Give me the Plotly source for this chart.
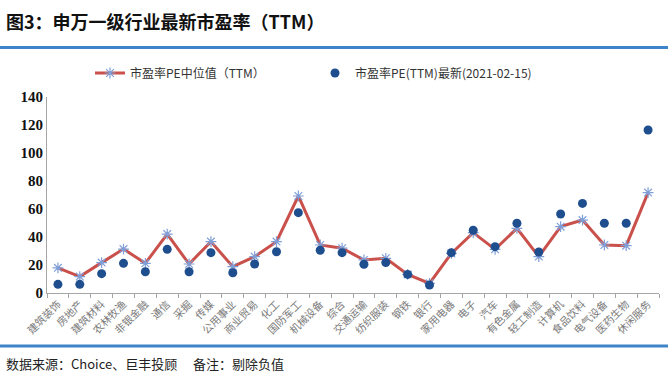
import plotly.graph_objects as go

categories = ["建筑装饰", "房地产", "建筑材料", "农林牧渔", "非银金融", "通信", "采掘", "传媒",
              "公用事业", "商业贸易", "化工", "国防军工", "机械设备", "综合", "交通运输", "纺织服装",
              "钢铁", "银行", "家用电器", "电子", "汽车", "有色金属", "轻工制造", "计算机",
              "食品饮料", "电气设备", "医药生物", "休闲服务"]
pe_median = [18.0, 11.7, 21.7, 31.4, 21.2, 42.1, 20.7, 36.7, 18.8, 26.0, 36.7, 69.3, 34.3, 32.0,
             23.6, 24.8, 13.3, 6.9, 28.3, 43.1, 31.2, 46.2, 26.0, 47.4, 52.1, 34.3, 33.8, 71.7]
pe_latest = [6.2, 6.2, 13.8, 21.2, 15.2, 31.2, 15.2, 28.8, 14.5, 20.7, 29.5, 57.4, 30.5, 28.8,
             20.5, 21.7, 13.3, 5.7, 28.8, 44.8, 33.1, 49.8, 29.3, 56.4, 64.0, 49.8, 49.8, 116.4]
y_ticks = [0, 20, 40, 60, 80, 100, 120, 140]

L, R, T, B = 47, 9, 97, 95
W = 668 - L - R
H = 388 - T - B

def px(x):
    return (x - L) / W

def py(y):
    return (388 - B - y) / H

fig = go.Figure()
fig.add_trace(go.Scatter(
    x=categories, y=pe_median, mode="lines+markers", name="市盈率PE中位值（TTM）",
    line=dict(color="#c9504b", width=3), legend="legend",
    marker=dict(symbol="asterisk-open", size=9, color="#7f9fd8", line=dict(color="#7f9fd8", width=1.2)),
))
fig.add_trace(go.Scatter(
    x=categories, y=pe_latest, mode="markers", name="市盈率PE(TTM)最新(2021-02-15)",
    marker=dict(symbol="circle", size=9, color="#1f4e8f"), legend="legend2",
))

legend_font = dict(family="Noto Sans CJK SC", size=12, color="#333333")

fig.update_layout(
    width=668, height=388,
    margin=dict(l=L, r=R, t=T, b=B),
    paper_bgcolor="white", plot_bgcolor="white",
    showlegend=True,
    legend=dict(orientation="h", x=px(90), y=py(73), yanchor="middle", xanchor="left",
                font=legend_font, bgcolor="rgba(0,0,0,0)"),
    legend2=dict(orientation="h", x=px(315), y=py(73), yanchor="middle", xanchor="left",
                 font=legend_font, bgcolor="rgba(0,0,0,0)"),
    xaxis=dict(
        type="category", showgrid=False, showline=True, linecolor="#a6a6a6", linewidth=1,
        ticks="outside", ticklen=4, tickcolor="#a6a6a6", tickson="boundaries",
        tickangle=-45, tickfont=dict(family="Noto Sans CJK SC", size=10.5, color="#7a7a7a"),
        range=[-0.5, len(categories) - 0.5],
    ),
    yaxis=dict(
        range=[0, 140], tickvals=y_ticks, showgrid=False, showline=True, linecolor="#a6a6a6",
        linewidth=1, ticks="", zeroline=False,
        tickfont=dict(family="Liberation Serif", size=15, color="#111111", weight="bold"),
    ),
    shapes=[
        dict(type="line", xref="paper", yref="paper", x0=px(0), x1=px(668), y0=py(47.5), y1=py(47.5),
             line=dict(color="#3d85c8", width=3)),
        dict(type="line", xref="paper", yref="paper", x0=px(0), x1=px(668), y0=py(346), y1=py(346),
             line=dict(color="#3d85c8", width=3)),
    ],
    annotations=[
        dict(text="<b>图3：申万一级行业最新市盈率（TTM）</b>", xref="paper", yref="paper",
             x=px(4), y=py(21), xanchor="left", yanchor="middle", showarrow=False,
             font=dict(family="Noto Sans CJK SC", size=18, color="#111111")),
        dict(text="数据来源：Choice、巨丰投顾　 备注：剔除负值", xref="paper", yref="paper",
             x=px(4), y=py(363), xanchor="left", yanchor="middle", showarrow=False,
             font=dict(family="Noto Sans CJK SC", size=13, color="#222222")),
    ],
)

fig.write_html("out.html", config={"displayModeBar": False},
               post_script="document.body.style.margin='0';document.body.style.overflow='hidden';")
